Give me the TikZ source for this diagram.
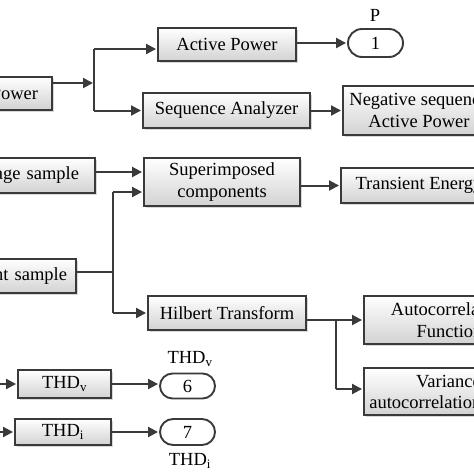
\documentclass[tikz,border=0pt]{standalone}
\usepackage{fontspec}
\setmainfont{Liberation Serif}
\usepackage{tikz}
\definecolor{edge}{RGB}{58, 58, 58}
\definecolor{shade}{RGB}{210, 210, 210}
\usetikzlibrary{arrows.meta, calc, shadows, shapes.misc}

\begin{document}
\begin{tikzpicture}[x=1pt, y=-1pt,
    font=\fontsize{18.5}{21.5}\selectfont,
    block/.style={draw=edge, line width=1.9pt, top color=white, bottom color=shade,
                  inner sep=0pt, align=center,
                  drop shadow={shadow xshift=1.5pt, shadow yshift=-1.5pt, fill=gray!60, opacity=0.5}},
    port/.style={rounded rectangle, draw=edge, line width=1.9pt, fill=white,
                 inner sep=0pt, minimum width=55pt},
    arrow/.style={-{Triangle[length=10pt, width=10pt]}, line width=2pt, edge, shorten >=1pt},
    wire/.style={line width=2pt, edge}
]
    \useasboundingbox (0,0) rectangle (474,474);
    \clip (0,0) rectangle (474,474);

    % inputs (cut by the left border)
    \node[block, anchor=east, minimum height=33pt, text width=80pt, align=right, inner xsep=14pt] (pow) at (53,93.5) {Power};
    \node[block, anchor=east, minimum height=35pt, text width=120pt, align=right, inner xsep=16pt] (vol) at (96,175.5) {Voltage sample};
    \node[block, anchor=east, minimum height=34pt, text width=120pt, align=right, inner xsep=9pt] (cur) at (77,276) {Current sample};

    % processing blocks
    \node[block, minimum width=138pt, minimum height=33pt] (act) at (227,44.5) {Active Power};
    \node[block, minimum width=167pt, minimum height=35pt] (seq) at (226.5,110.5) {Sequence Analyzer};
    \node[block, minimum width=156pt, minimum height=48pt] (sup) at (222,182) {Superimposed\\components};
    \node[block, minimum width=158pt, minimum height=34pt] (hil) at (227,313) {Hilbert Transform};

    % features (cut by the right border)
    \node[block, minimum width=152pt, minimum height=49pt] (neg) at (419,110.5) {Negative sequence\\Active Power};
    \node[block, minimum width=156pt, minimum height=35pt] (tra) at (419,185.5) {Transient Energy};
    \node[block, minimum width=171pt, minimum height=48pt] (aut) at (449.5,320) {Autocorrelation\\Function};
    \node[block, minimum width=189pt, minimum height=47pt] (var) at (458.5,391.5) {Variance of\\autocorrelation function};

    \node[block, minimum width=93pt, minimum height=28pt] (thv) at (64.5,384) {THD\textsubscript{v}};
    \node[block, minimum width=96pt, minimum height=26pt] (thi) at (63,432) {THD\textsubscript{i}};

    % outputs
    \node[port, minimum height=28pt] (p1) at (375.5,43) {1};
    \node[port, minimum height=25pt] (o6) at (187.5,386) {6};
    \node[port, minimum height=26pt] (o7) at (187.5,432) {7};
    \node (lp) at (375,15) {P};
    \node (l6) at (190,359) {THD\textsubscript{v}};
    \node (l7) at (190,461) {THD\textsubscript{i}};

    % branch points
    \coordinate (b1) at (94,83);
    \coordinate (b1t) at (94,49);
    \coordinate (b1b) at (94,110.5);
    \coordinate (b2) at (113,272);
    \coordinate (b2t) at (113,192);
    \coordinate (b2b) at (113,313);
    \coordinate (b3) at (336,320);
    \coordinate (b3b) at (336,389);
    \coordinate (in6) at (-5,384);
    \coordinate (in7) at (-5,432);

    \draw[arrow] (pow.east |- b1) -- (b1);
    \draw[wire] (b1t) -- (b1b);
    \draw[arrow] (b1t) -- (b1t -| act.west);
    \draw[arrow] (b1b) -- (seq.west);
    \draw[arrow] (act.east |- p1.west) -- (p1.west);
    \draw[arrow] (seq.east) -- (seq.east -| neg.west);

    \draw[arrow] ([yshift=3.5pt]vol.east) -- ([yshift=3.5pt]vol.east -| sup.west);
    \draw[wire] (cur.east |- b2) -- (b2);
    \draw[wire] (b2t) -- (b2b);
    \draw[arrow] (b2t) -- (b2t -| sup.west);
    \draw[arrow] (b2b) -- (hil.west);
    \draw[arrow] (sup.east |- tra.west) -- (tra.west);

    \draw[arrow] (hil.east |- aut.west) -- (aut.west);
    \draw[wire] (b3) -- (b3b);
    \draw[arrow] (b3b) -- (b3b -| var.west);

    \draw[arrow] (in6) -- (thv.west);
    \draw[arrow] (in7) -- (thi.west);
    \draw[arrow] (thv.east) -- (thv.east -| o6.west);
    \draw[arrow] (thi.east) -- (o7.west);
\end{tikzpicture}
\end{document}
